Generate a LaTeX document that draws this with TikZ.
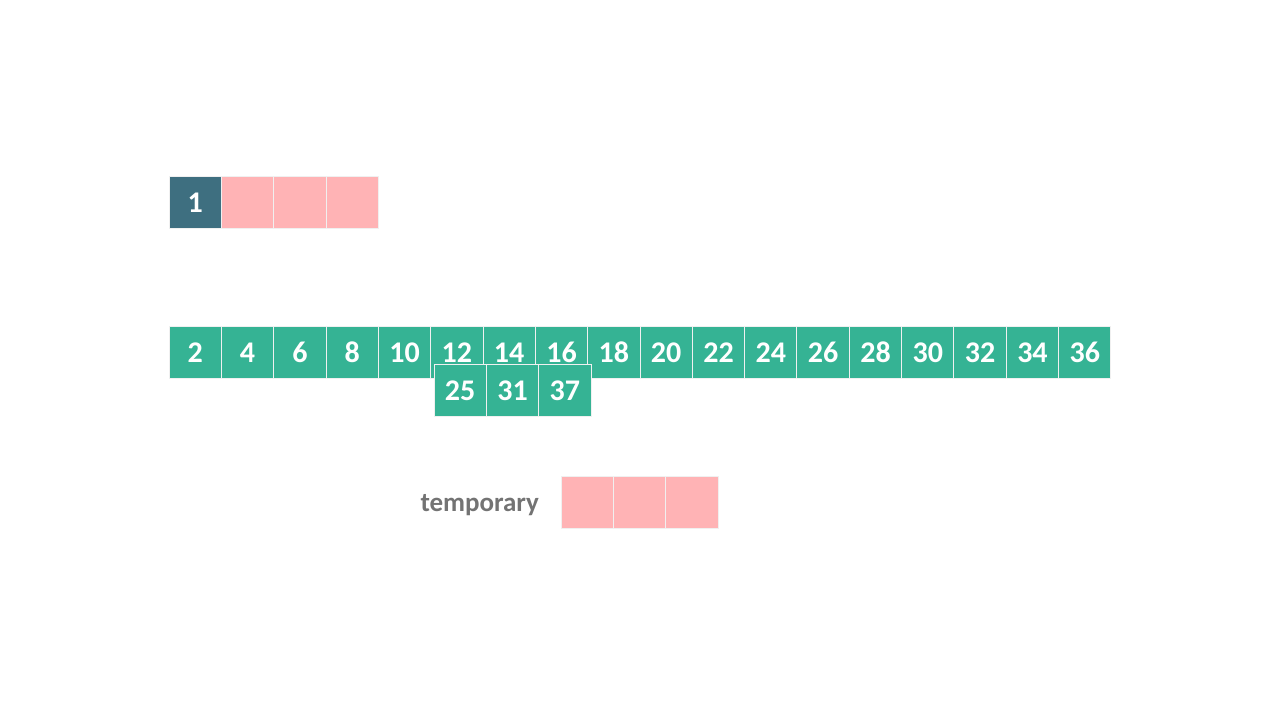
\documentclass[tikz,border=0pt]{standalone}
\usepackage{fontspec}
\setmainfont{Carlito}
\usetikzlibrary{positioning}
\definecolor{CellDark}{HTML}{3E6F80}
\definecolor{CellTeal}{HTML}{35B394}
\definecolor{CellPink}{HTML}{FFB3B5}
\definecolor{LabelGray}{HTML}{737373}
\tikzset{
	cell/.style={draw=white!88!gray, line width=0.5pt, minimum width=26.17pt, minimum height=26pt,
		inner sep=0pt, text height=10pt, text depth=0pt, text=white,
		font=\bfseries\fontsize{15}{16}\selectfont},
	darkcell/.style={cell, fill=CellDark},
	tealcell/.style={cell, fill=CellTeal},
	pinkcell/.style={cell, fill=CellPink},
}
\begin{document}
\begin{tikzpicture}[x=0.5pt, y=-0.5pt]
	\useasboundingbox (0,0) rectangle (1280,720);
	
	% top row
	\node[darkcell] (one) at (195.2,202) {1};
	\foreach \i in {1,2,3}
		\node[pinkcell] (p\i) at ({195.2+52.33*\i},202) {};
	
	% sorted row
	\foreach \v [count=\i from 0] in {2,4,...,36}
		\node[tealcell] (m\v) at ({195.2+52.33*\i},352) {\v};
	
	% overlay
	\foreach \v [count=\i from 0] in {25,31,37}
		\node[tealcell] (o\v) at ({460.2+52.33*\i},390) {\v};
	
	% temporary
	\foreach \i in {0,1,2}
		\node[pinkcell] (t\i) at ({587.2+52.33*\i},502.5) {};
	\node[anchor=east, text=LabelGray, font=\bfseries\fontsize{13.5}{14}\selectfont] (tmp) at (546,505) {temporary};
\end{tikzpicture}
\end{document}
